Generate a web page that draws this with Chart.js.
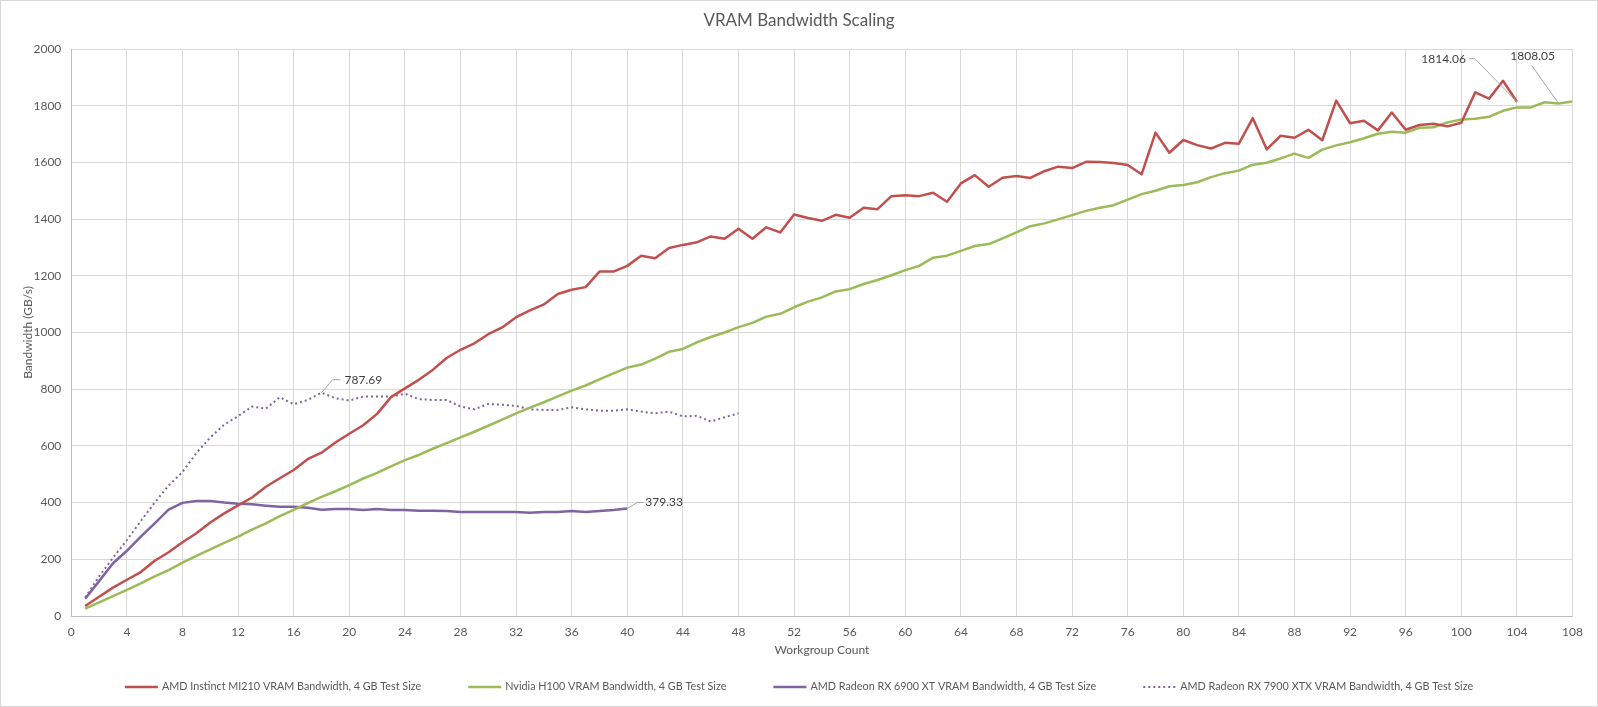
<!DOCTYPE html>
<html>
<head>
<meta charset="utf-8">
<title>VRAM Bandwidth Scaling</title>
<script src="https://cdn.jsdelivr.net/npm/chart.js@4.4.1/dist/chart.umd.min.js"></script>
<style>
  html, body { margin: 0; padding: 0; background: #ffffff; }
  #wrap { width: 1598px; height: 707px; position: relative; }
</style>
</head>
<body>
<div id="wrap"><canvas id="bwChart" width="1598" height="707"></canvas></div>
<script>
// x values: workgroup count
const workgroups = [
    1, 2, 3, 4, 5, 6, 7, 8, 9, 10, 11, 12, 13, 14, 15, 16, 17, 18, 19, 20,
    21, 22, 23, 24, 25, 26, 27, 28, 29, 30, 31, 32, 33, 34, 35, 36, 37, 38, 39, 40,
    41, 42, 43, 44, 45, 46, 47, 48, 49, 50, 51, 52, 53, 54, 55, 56, 57, 58, 59, 60,
    61, 62, 63, 64, 65, 66, 67, 68, 69, 70, 71, 72, 73, 74, 75, 76, 77, 78, 79, 80,
    81, 82, 83, 84, 85, 86, 87, 88, 89, 90, 91, 92, 93, 94, 95, 96, 97, 98, 99, 100,
    101, 102, 103, 104, 105, 106, 107, 108
];

const mi210 = [
    35, 68, 100, 128, 155, 195, 225, 260, 292, 330, 362, 390, 418, 456, 486, 515, 553, 576, 612, 643,
    673, 713, 772, 803, 833, 868, 910, 939, 962, 994, 1018, 1054, 1078, 1099, 1136, 1151, 1160, 1215, 1215, 1235,
    1271, 1262, 1298, 1309, 1318, 1339, 1331, 1366, 1331, 1371, 1353, 1416, 1404, 1394, 1415, 1405, 1440, 1435, 1481, 1484,
    1481, 1493, 1461, 1526, 1555, 1514, 1546, 1552, 1545, 1569, 1585, 1580, 1602, 1601, 1598, 1591, 1558, 1705, 1634, 1679,
    1661, 1649, 1669, 1666, 1756, 1646, 1694, 1687, 1715, 1678, 1818, 1738, 1747, 1713, 1776, 1715, 1732, 1736, 1727, 1740,
    1847, 1825, 1888, 1814.06
];

const h100 = [
    26, 48, 70, 92, 115, 140, 162, 188, 212, 235, 258, 280, 305, 327, 352, 374, 398, 420, 440, 462,
    485, 505, 528, 550, 568, 590, 610, 630, 650, 671, 693, 715, 735, 754, 775, 795, 813, 835, 856, 876,
    887, 908, 932, 942, 965, 984, 1000, 1019, 1034, 1056, 1066, 1089, 1109, 1124, 1145, 1153, 1171, 1185, 1202, 1220,
    1235, 1264, 1271, 1288, 1305, 1312, 1332, 1353, 1375, 1385, 1399, 1414, 1429, 1440, 1449, 1469, 1488, 1500, 1516, 1520,
    1530, 1548, 1562, 1571, 1592, 1599, 1614, 1631, 1616, 1645, 1660, 1671, 1685, 1701, 1708, 1705, 1722, 1724, 1741, 1751,
    1754, 1761, 1782, 1794, 1794, 1812, 1808.05, 1815
];

const rx6900xt = [
    61, 123, 186, 230, 280, 327, 375, 399, 406, 406, 400, 396, 394, 389, 385, 385, 382, 375, 377, 377,
    374, 377, 374, 374, 371, 371, 370, 367, 367, 367, 367, 367, 364, 367, 367, 370, 367, 370, 374, 379.33
];

const rx7900xtx = [
    65, 140, 205, 268, 335, 400, 460, 508, 575, 630, 675, 705, 739, 731, 772, 747, 762, 787.69, 768, 760,
    774, 774, 774, 784, 765, 762, 762, 739, 729, 748, 745, 741, 729, 727, 727, 736, 729, 724, 724, 729,
    721, 715, 721, 704, 706, 686, 701, 715
];

const seriesNames = [
    'AMD Instinct MI210 VRAM Bandwidth, 4 GB Test Size',
    'Nvidia H100 VRAM Bandwidth, 4 GB Test Size',
    'AMD Radeon RX 6900 XT VRAM Bandwidth, 4 GB Test Size',
    'AMD Radeon RX 7900 XTX VRAM Bandwidth, 4 GB Test Size'
];

const chartTitle = 'VRAM Bandwidth Scaling';

const FONT = 'Lato, "Open Sans", sans-serif';
const TEXT_COLOR = '#595959';

function toPoints(values) {
    return values.map((v, i) => ({ x: workgroups[i], y: v }));
}

// callouts: dataset index, point index, leader path and text offset (px from the point)
const callouts = [
    { ds: 3, idx: 17, path: [[11, -13], [19, -13]], tx: 23, ty: -13, align: 'left' },
    { ds: 2, idx: 39, path: [[10, -6], [16, -6]], tx: 18, ty: -6, align: 'left' },
    { ds: 0, idx: 103, path: [[-42, -43], [-48, -43]], tx: -51, ty: -43, align: 'right' },
    { ds: 1, idx: 106, path: [[-27, -38]], tx: -26, ty: -47, align: 'center' }
];

const frameAndLegend = {
    id: 'frameAndLegend',
    beforeDraw(chart) {
        const ctx = chart.ctx;
        ctx.save();
        ctx.fillStyle = '#ffffff';
        ctx.fillRect(0, 0, chart.width, chart.height);
        ctx.strokeStyle = '#d9d9d9';
        ctx.lineWidth = 1;
        ctx.strokeRect(0.5, 0.5, chart.width - 1, chart.height - 1);

        // title, centred on the whole canvas
        ctx.font = '17px ' + FONT;
        ctx.fillStyle = TEXT_COLOR;
        ctx.textAlign = 'center';
        ctx.textBaseline = 'middle';
        ctx.fillText(chartTitle, chart.width / 2, 21);
        ctx.restore();
    },
    afterDraw(chart) {
        const ctx = chart.ctx;
        ctx.save();
        ctx.font = '10.8px ' + FONT;
        ctx.textBaseline = 'middle';

        // legend row, centred
        const swatch = 33, gapText = 4, gapItem = 47, legendY = 687;
        const items = chart.data.datasets.map(ds => ({
            ds, w: ctx.measureText(ds.label).width
        }));
        let total = 0;
        items.forEach((it, i) => {
            total += swatch + gapText + it.w + (i < items.length - 1 ? gapItem : 0);
        });
        let x = (chart.width - total) / 2;
        items.forEach(it => {
            ctx.beginPath();
            ctx.strokeStyle = it.ds.borderColor;
            ctx.lineWidth = it.ds.borderWidth;
            ctx.setLineDash(it.ds.borderDash || []);
            ctx.moveTo(x, legendY);
            ctx.lineTo(x + swatch, legendY);
            ctx.stroke();
            ctx.setLineDash([]);
            ctx.fillStyle = TEXT_COLOR;
            ctx.textAlign = 'left';
            ctx.fillText(it.ds.label, x + swatch + gapText, legendY);
            x += swatch + gapText + it.w + gapItem;
        });

        // value callouts
        ctx.font = '12px ' + FONT;
        const xs = chart.scales.x, ys = chart.scales.y;
        callouts.forEach(c => {
            const pt = chart.data.datasets[c.ds].data[c.idx];
            const px = xs.getPixelForValue(pt.x);
            const py = ys.getPixelForValue(pt.y);
            ctx.beginPath();
            ctx.strokeStyle = '#a6a6a6';
            ctx.lineWidth = 1;
            ctx.moveTo(px, py);
            c.path.forEach(p => ctx.lineTo(px + p[0], py + p[1]));
            ctx.stroke();
            ctx.fillStyle = '#404040';
            ctx.textAlign = c.align;
            ctx.fillText(String(pt.y), px + c.tx, py + c.ty);
        });
        ctx.restore();
    }
};

const ctx = document.getElementById('bwChart').getContext('2d');
const bwChart = new Chart(ctx, {
    type: 'line',
    data: {
        datasets: [
            {
                label: seriesNames[0],
                data: toPoints(mi210),
                borderColor: '#c0504d',
                borderWidth: 2.5
            },
            {
                label: seriesNames[1],
                data: toPoints(h100),
                borderColor: '#9bbb59',
                borderWidth: 2.5
            },
            {
                label: seriesNames[2],
                data: toPoints(rx6900xt),
                borderColor: '#8064a2',
                borderWidth: 2.5
            },
            {
                label: seriesNames[3],
                data: toPoints(rx7900xtx),
                borderColor: '#8064a2',
                borderWidth: 2,
                borderDash: [2, 3]
            }
        ]
    },
    options: {
        responsive: false,
        animation: false,
        devicePixelRatio: 1,
        layout: { padding: { left: 0, right: 25.5, top: 49, bottom: 41 } },
        elements: {
            point: { radius: 0, hoverRadius: 0 },
            line: { tension: 0, fill: false, borderJoinStyle: 'round' }
        },
        plugins: {
            legend: { display: false },
            tooltip: { enabled: false },
            title: { display: false }
        },
        scales: {
            x: {
                type: 'linear',
                min: 0,
                max: 108,
                afterFit(scale) { scale.height = 50; },
                ticks: {
                    stepSize: 4,
                    autoSkip: false,
                    color: TEXT_COLOR,
                    font: { family: FONT, size: 12 },
                    padding: 9,
                    maxRotation: 0
                },
                grid: { color: '#d9d9d9', drawTicks: false },
                border: { color: '#bfbfbf' },
                title: {
                    display: true,
                    text: 'Workgroup Count',
                    color: TEXT_COLOR,
                    font: { family: FONT, size: 12 },
                    padding: { top: 0, bottom: 8.8 }
                }
            },
            y: {
                min: 0,
                max: 2000,
                afterFit(scale) { scale.width = 71.3; },
                ticks: {
                    stepSize: 200,
                    color: TEXT_COLOR,
                    font: { family: FONT, size: 12 },
                    padding: 10,
                    callback: value => String(value)
                },
                grid: { color: '#d9d9d9', drawTicks: false },
                border: { color: '#bfbfbf' },
                title: {
                    display: true,
                    text: 'Bandwidth (GB/s)',
                    color: TEXT_COLOR,
                    font: { family: FONT, size: 12 },
                    padding: { top: 21.3, bottom: 0 }
                }
            }
        }
    },
    plugins: [frameAndLegend]
});
</script>
</body>
</html>
